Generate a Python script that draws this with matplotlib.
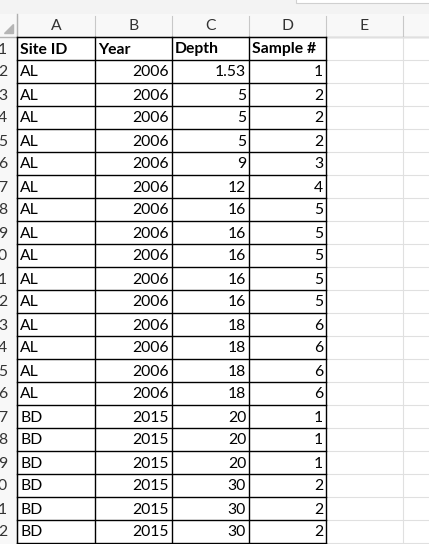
import matplotlib.pyplot as plt
from matplotlib.patches import Rectangle

# spreadsheet contents
headers = ['Site ID', 'Year', 'Depth', 'Sample #']
site_ids = ['AL'] * 15 + ['BD'] * 6
years = [2006] * 15 + [2015] * 6
depths = ['1.53', '5', '5', '5', '9', '12', '16', '16', '16', '16', '16',
          '18', '18', '18', '18', '20', '20', '20', '30', '30', '30']
samples = [1, 2, 2, 2, 3, 4, 5, 5, 5, 5, 5, 6, 6, 6, 6, 1, 1, 1, 2, 2, 2]
col_letters = ['A', 'B', 'C', 'D', 'E']

W, H = 429, 544
fig = plt.figure(figsize=(W / 100, H / 100), dpi=100)
ax = fig.add_axes([0, 0, 1, 1])
ax.set_xlim(0, W)
ax.set_ylim(H, 0)
ax.axis('off')

font = ['Lato', 'DejaVu Sans']
fs = 11.3
col_x = [17, 95, 172, 249, 326, 403, 481]
head_top, head_bot = 14, 37
row_h = 23

# top strip and header band
ax.add_patch(Rectangle((0, 0), W, head_top, color='#f3f3f3', lw=0))
ax.add_patch(Rectangle((296, -5), 200, 8, facecolor='white', edgecolor='#d0d0d0', lw=0.8))
ax.add_patch(Rectangle((0, head_top), W, head_bot - head_top, color='#f8f8f8', lw=0))
ax.add_patch(Rectangle((0, head_bot), col_x[0], H, color='#f8f8f8', lw=0))
ax.fill([4, 13, 13], [33, 33, 24], color='#b5b5b5')

# header separators
for x in col_x:
    ax.plot([x, x], [head_top + 2, head_bot], color='#c8c8c8', lw=0.8)
ax.plot([0, W], [head_bot, head_bot], color='#b0b0b0', lw=1)
ax.plot([col_x[0], col_x[0]], [head_top, H], color='#b0b0b0', lw=1)
for i, letter in enumerate(col_letters):
    ax.text((col_x[i] + col_x[i + 1]) / 2, 26, letter, ha='center', va='center',
            fontsize=fs, family=font, color='#333333')

n_rows = len(site_ids) + 1
# light grid for the empty area
for r in range(n_rows + 1):
    y = head_bot + r * row_h
    ax.plot([col_x[4], W], [y, y], color='#e0e0e0', lw=0.8)
    if r < n_rows:
        ax.text(7, y + row_h / 2 + 1, str((r + 1) % 10), ha='right', va='center',
                fontsize=fs, family=font, color='#333333')
for x in col_x[5:]:
    ax.plot([x, x], [head_bot, H], color='#e0e0e0', lw=0.8)

# black borders of the filled block
for r in range(n_rows + 1):
    y = head_bot + r * row_h
    ax.plot([col_x[0], col_x[4]], [y, y], color='black', lw=1)
for x in col_x[:5]:
    ax.plot([x, x], [head_bot, head_bot + n_rows * row_h], color='black', lw=1)

# header text
for i, h in enumerate(headers):
    ax.text(col_x[i] + 3, head_bot + row_h / 2 + 1, h, ha='left', va='center',
            fontsize=fs, family=font, fontweight='bold')

# data rows
for r in range(len(site_ids)):
    yc = head_bot + (r + 1) * row_h + row_h / 2 + 1
    ax.text(col_x[0] + 3, yc, site_ids[r], ha='left', va='center', fontsize=fs, family=font)
    ax.text(col_x[2] - 3, yc, str(years[r]), ha='right', va='center', fontsize=fs, family=font)
    ax.text(col_x[3] - 3, yc, depths[r], ha='right', va='center', fontsize=fs, family=font)
    ax.text(col_x[4] - 3, yc, str(samples[r]), ha='right', va='center', fontsize=fs, family=font)

fig.savefig('out.png', dpi=100)
